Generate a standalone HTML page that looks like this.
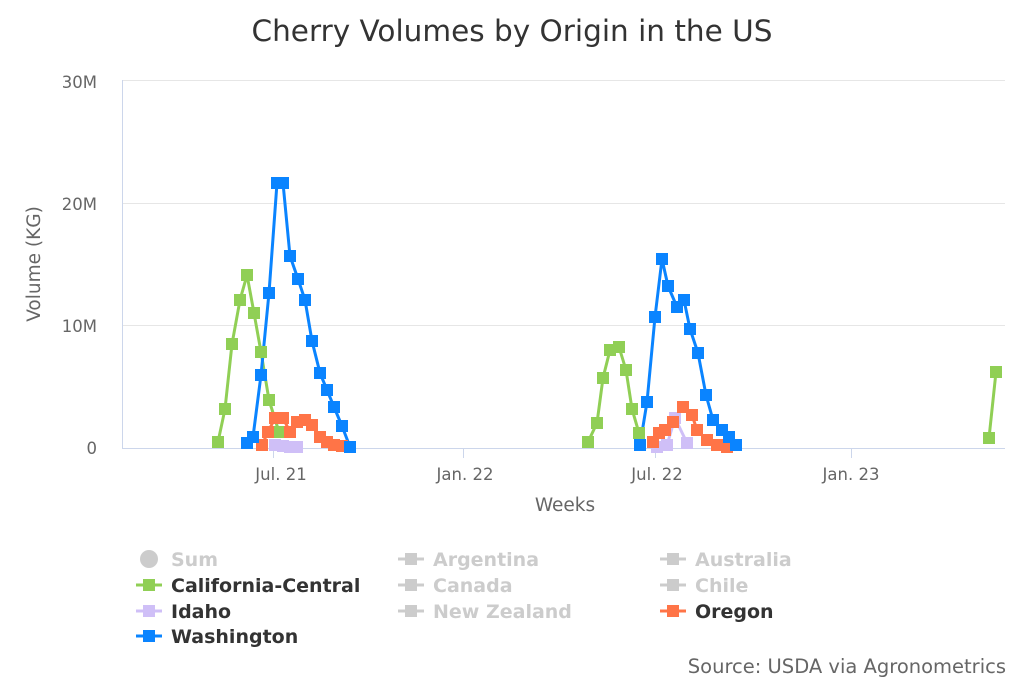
<!DOCTYPE html>
<html><head><style>body{margin:0;background:#fff}svg{display:block;font-family:"DejaVu Sans",sans-serif}</style></head><body>
<svg width="1024" height="683" viewBox="0 0 1024 683">
<text x="512" y="41" text-anchor="middle" font-size="29.5" fill="#333">Cherry Volumes by Origin in the US</text>
<g stroke="#e6e6e6" stroke-width="1">
<line x1="122" y1="80.5" x2="1005" y2="80.5"/><line x1="122" y1="203.5" x2="1005" y2="203.5"/><line x1="122" y1="325.5" x2="1005" y2="325.5"/>
</g>
<line x1="122" y1="448.5" x2="1005" y2="448.5" stroke="#ccd6eb"/>
<line x1="122.5" y1="80" x2="122.5" y2="448" stroke="#ccd6eb"/>
<g stroke="#ccd6eb"><line x1="273.5" y1="448" x2="273.5" y2="458"/><line x1="463.5" y1="448" x2="463.5" y2="458"/><line x1="655.5" y1="448" x2="655.5" y2="458"/><line x1="851.5" y1="448" x2="851.5" y2="458"/></g>
<g font-size="16.5" fill="#666" text-anchor="end">
<text x="97" y="88">30M</text><text x="97" y="210">20M</text><text x="97" y="332">10M</text><text x="97" y="454">0</text></g>
<g font-size="16.5" fill="#666" text-anchor="middle">
<text x="281" y="480">Jul. 21</text><text x="465" y="480">Jan. 22</text><text x="657" y="480">Jul. 22</text><text x="851" y="480">Jan. 23</text>
<text x="565" y="511" font-size="18.5">Weeks</text></g>
<text transform="translate(40,264) rotate(-90)" text-anchor="middle" font-size="18.5" fill="#666">Volume (KG)</text>
<defs>
<g id="sg"><rect x="-6" y="-6" width="12" height="12" fill="#90cf55"/></g>
<g id="sb"><rect x="-6" y="-6" width="12" height="12" fill="#0a84ff"/></g>
<g id="so"><rect x="-6" y="-6" width="12" height="12" fill="#ff7447"/></g>
<g id="sp"><rect x="-6" y="-6" width="12" height="12" fill="#cfbff7"/></g>
</defs>
<g fill="none" stroke-width="3" stroke-linejoin="round">
<polyline stroke="#90cf55" points="218,442 225,409 232,344 240,300 247,275 254,313 261,352 269,400 279,432"/>
<polyline stroke="#90cf55" points="588,442 597,423 603,378 610,350 619,347 626,370 632,409 639,433 642,443"/>
<polyline stroke="#90cf55" points="989,438 996,372"/>
<polyline stroke="#cfbff7" points="275,445 283,446 290,447 297,447"/>
<polyline stroke="#cfbff7" points="657,448 667,445 675,418 687,443"/>
<polyline stroke="#ff7447" points="262,445 268,432 275,418 283,418 290,432 297,422 305,420 312,425 320,437 327,442 334,445 342,446"/>
<polyline stroke="#ff7447" points="653,442 659,433 665,430 673,422 683,407 692,415 697,430 707,440 717,445 727,447"/>
<polyline stroke="#0a84ff" points="247,443 253,437 261,375 269,293 277,183 283,183 290,256 298,279 305,300 312,341 320,373 327,390 334,407 342,426 350,447"/>
<polyline stroke="#0a84ff" points="640,445 647,402 655,317 662,259 668,286 677,307 684,300 690,329 698,353 706,395 713,420 722,430 729,437 736,445"/>
</g>
<g>
<use href="#sg" x="218" y="442"/><use href="#sg" x="225" y="409"/><use href="#sg" x="232" y="344"/><use href="#sg" x="240" y="300"/><use href="#sg" x="247" y="275"/><use href="#sg" x="254" y="313"/><use href="#sg" x="261" y="352"/><use href="#sg" x="269" y="400"/><use href="#sg" x="279" y="432"/>
<use href="#sg" x="588" y="442"/><use href="#sg" x="597" y="423"/><use href="#sg" x="603" y="378"/><use href="#sg" x="610" y="350"/><use href="#sg" x="619" y="347"/><use href="#sg" x="626" y="370"/><use href="#sg" x="632" y="409"/><use href="#sg" x="639" y="433"/>
<use href="#sg" x="989" y="438"/><use href="#sg" x="996" y="372"/>
<use href="#sp" x="275" y="445"/><use href="#sp" x="283" y="446"/><use href="#sp" x="290" y="447"/><use href="#sp" x="297" y="447"/>
<use href="#sp" x="657" y="447"/><use href="#sp" x="667" y="445"/><use href="#sp" x="675" y="418"/><use href="#sp" x="687" y="443"/>
<use href="#so" x="262" y="445"/><use href="#so" x="268" y="432"/><use href="#so" x="275" y="418"/><use href="#so" x="283" y="418"/><use href="#so" x="290" y="432"/><use href="#so" x="297" y="422"/><use href="#so" x="305" y="420"/><use href="#so" x="312" y="425"/><use href="#so" x="320" y="437"/><use href="#so" x="327" y="442"/><use href="#so" x="334" y="445"/><use href="#so" x="342" y="446"/>
<use href="#so" x="653" y="442"/><use href="#so" x="659" y="433"/><use href="#so" x="665" y="430"/><use href="#so" x="673" y="422"/><use href="#so" x="683" y="407"/><use href="#so" x="692" y="415"/><use href="#so" x="697" y="430"/><use href="#so" x="707" y="440"/><use href="#so" x="717" y="445"/><use href="#so" x="727" y="447"/>
<use href="#sb" x="247" y="443"/><use href="#sb" x="253" y="437"/><use href="#sb" x="261" y="375"/><use href="#sb" x="269" y="293"/><use href="#sb" x="277" y="183"/><use href="#sb" x="283" y="183"/><use href="#sb" x="290" y="256"/><use href="#sb" x="298" y="279"/><use href="#sb" x="305" y="300"/><use href="#sb" x="312" y="341"/><use href="#sb" x="320" y="373"/><use href="#sb" x="327" y="390"/><use href="#sb" x="334" y="407"/><use href="#sb" x="342" y="426"/><use href="#sb" x="350" y="447"/>
<use href="#sb" x="640" y="445"/><use href="#sb" x="647" y="402"/><use href="#sb" x="655" y="317"/><use href="#sb" x="662" y="259"/><use href="#sb" x="668" y="286"/><use href="#sb" x="677" y="307"/><use href="#sb" x="684" y="300"/><use href="#sb" x="690" y="329"/><use href="#sb" x="698" y="353"/><use href="#sb" x="706" y="395"/><use href="#sb" x="713" y="420"/><use href="#sb" x="722" y="430"/><use href="#sb" x="729" y="437"/><use href="#sb" x="736" y="445"/>
</g>
<g font-size="19" font-weight="bold">
<circle cx="149" cy="559" r="9" fill="#ccc"/><text x="171" y="566" fill="#ccc">Sum</text>
<line x1="136" y1="585" x2="162" y2="585" stroke="#90cf55" stroke-width="3"/><rect x="143" y="579" width="12" height="12" fill="#90cf55"/><text x="171" y="592" fill="#333">California-Central</text>
<line x1="136" y1="611" x2="162" y2="611" stroke="#cfbff7" stroke-width="3"/><rect x="143" y="605" width="12" height="12" fill="#cfbff7"/><text x="171" y="618" fill="#333">Idaho</text>
<line x1="136" y1="636" x2="162" y2="636" stroke="#0a84ff" stroke-width="3"/><rect x="143" y="630" width="12" height="12" fill="#0a84ff"/><text x="171" y="643" fill="#333">Washington</text>
<line x1="398" y1="559" x2="424" y2="559" stroke="#ccc" stroke-width="3"/><rect x="405" y="553" width="12" height="12" fill="#ccc"/><text x="433" y="566" fill="#ccc">Argentina</text>
<line x1="398" y1="585" x2="424" y2="585" stroke="#ccc" stroke-width="3"/><rect x="405" y="579" width="12" height="12" fill="#ccc"/><text x="433" y="592" fill="#ccc">Canada</text>
<line x1="398" y1="611" x2="424" y2="611" stroke="#ccc" stroke-width="3"/><rect x="405" y="605" width="12" height="12" fill="#ccc"/><text x="433" y="618" fill="#ccc">New Zealand</text>
<line x1="660" y1="559" x2="686" y2="559" stroke="#ccc" stroke-width="3"/><rect x="667" y="553" width="12" height="12" fill="#ccc"/><text x="695" y="566" fill="#ccc">Australia</text>
<line x1="660" y1="585" x2="686" y2="585" stroke="#ccc" stroke-width="3"/><rect x="667" y="579" width="12" height="12" fill="#ccc"/><text x="695" y="592" fill="#ccc">Chile</text>
<line x1="660" y1="611" x2="686" y2="611" stroke="#ff7447" stroke-width="3"/><rect x="667" y="605" width="12" height="12" fill="#ff7447"/><text x="695" y="618" fill="#333">Oregon</text>
</g>
<text x="1006" y="673" text-anchor="end" font-size="19.5" fill="#666">Source: USDA via Agronometrics</text>
</svg>
</body></html>
